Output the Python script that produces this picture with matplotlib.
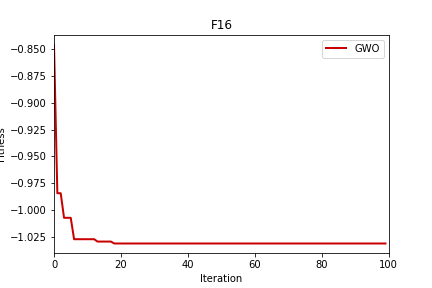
import matplotlib
matplotlib.use('Agg')
import matplotlib.pyplot as plt

iterations = list(range(0, 100))
fitness = [
    -0.8455, -0.9845, -0.9845, -1.0075, -1.0075, -1.0075, -1.0275, -1.0275, -1.0275, -1.0275,
    -1.0275, -1.0275, -1.0275, -1.0297, -1.0297, -1.0297, -1.0297, -1.0297, -1.0315, -1.0315,
    -1.0315, -1.0315, -1.0315, -1.0315, -1.0315, -1.0315, -1.0315, -1.0315, -1.0315, -1.0315,
    -1.0315, -1.0315, -1.0315, -1.0315, -1.0315, -1.0315, -1.0315, -1.0315, -1.0315, -1.0315,
    -1.0315, -1.0315, -1.0315, -1.0315, -1.0315, -1.0315, -1.0315, -1.0315, -1.0315, -1.0315,
    -1.0315, -1.0315, -1.0315, -1.0315, -1.0315, -1.0315, -1.0315, -1.0315, -1.0315, -1.0315,
    -1.0315, -1.0315, -1.0315, -1.0315, -1.0315, -1.0315, -1.0315, -1.0315, -1.0315, -1.0315,
    -1.0315, -1.0315, -1.0315, -1.0315, -1.0315, -1.0315, -1.0315, -1.0315, -1.0315, -1.0315,
    -1.0315, -1.0315, -1.0315, -1.0315, -1.0315, -1.0315, -1.0315, -1.0315, -1.0315, -1.0315,
    -1.0315, -1.0315, -1.0315, -1.0315, -1.0315, -1.0315, -1.0315, -1.0315, -1.0315, -1.0315,
]

fig = plt.figure(figsize=(6, 4), dpi=72)
plt.subplots_adjust(left=0.125, right=0.9, bottom=0.12, top=0.88)
plt.plot(iterations, fitness, color='#c80000', linewidth=2, label='GWO')
plt.xlim(0, 100)
plt.xlabel('Iteration')
plt.ylabel('Fitness')
plt.title('F16')
plt.legend(loc='upper right')
plt.savefig('out.png', dpi=72)
